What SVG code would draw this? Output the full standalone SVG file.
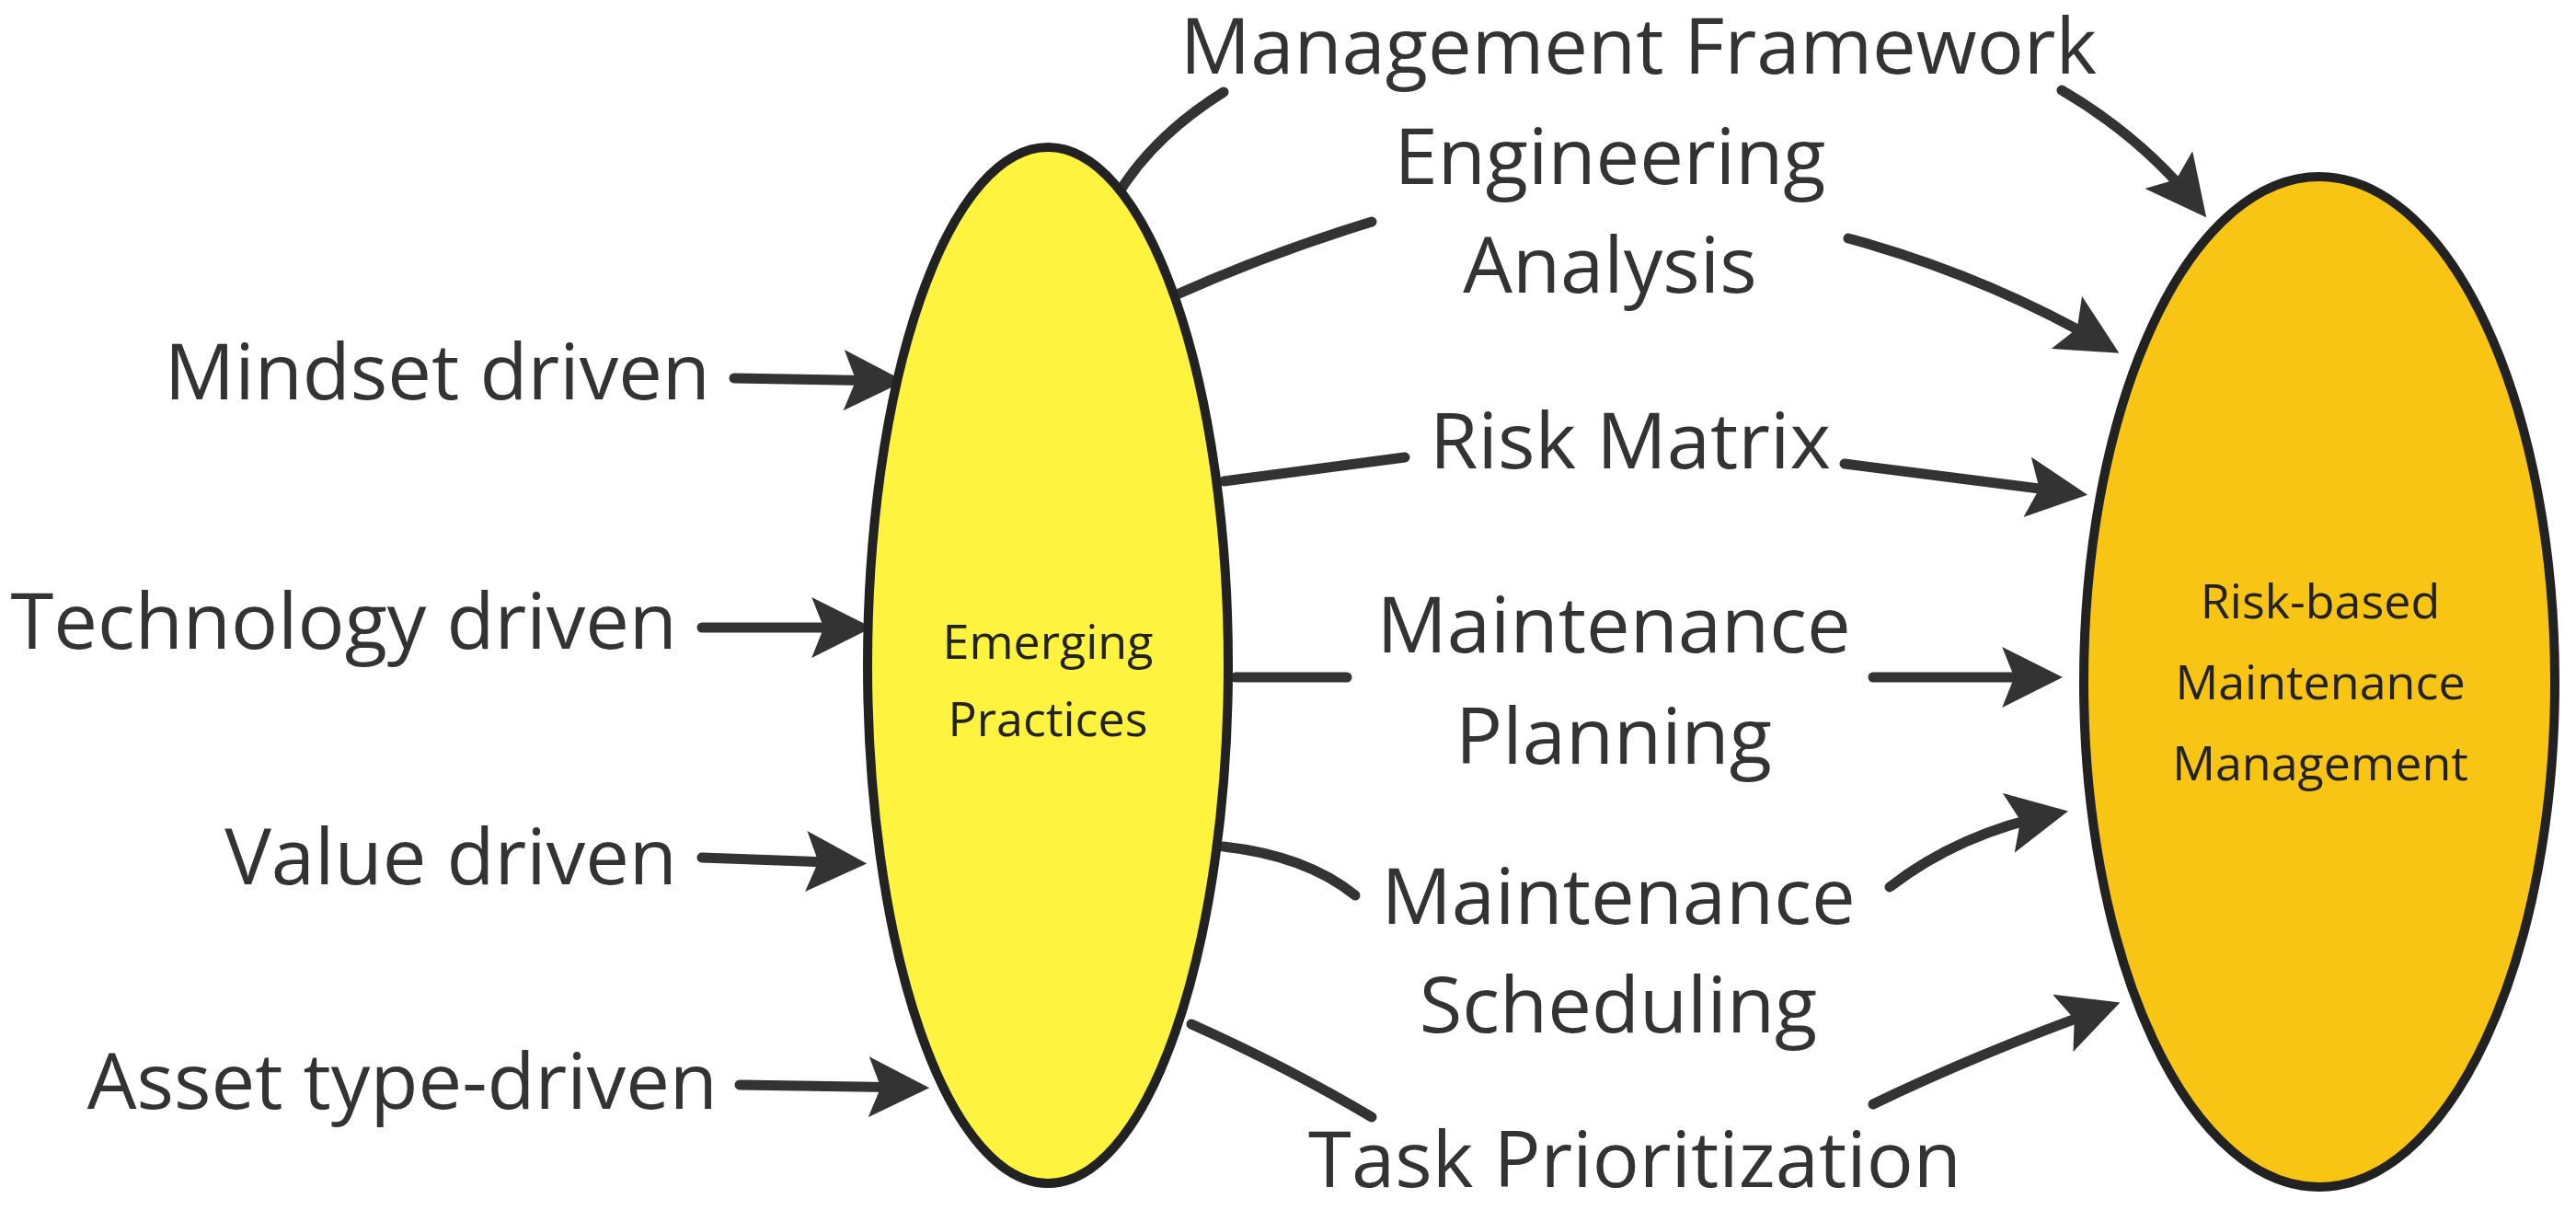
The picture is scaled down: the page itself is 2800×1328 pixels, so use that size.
<svg xmlns="http://www.w3.org/2000/svg" width="2800" height="1328" viewBox="0 0 2800 1328">
<defs>
<style>
.l{font-family:"Open Sans","Liberation Sans",sans-serif;font-size:85px;fill:#333}
.s{font-family:"Open Sans","Liberation Sans",sans-serif;font-size:52px;fill:#222;text-anchor:middle}
.c{fill:none;stroke:#333;stroke-width:11;stroke-linecap:round}
.a{marker-end:url(#ah)}
</style>
<marker id="ah" viewBox="0 0 10 10" refX="8" refY="5" markerWidth="6" markerHeight="6" markerUnits="strokeWidth" orient="auto"><path d="M0,0L10,5L0,10L2,5z" fill="#333"/></marker>
</defs>
<rect width="2800" height="1328" fill="#fff"/>
<g id="connectors">
<path class="c a" d="M798,411L970,414"/>
<path class="c a" d="M763,682L935,682"/>
<path class="c a" d="M763,932L929,938"/>
<path class="c a" d="M804,1179L997,1182"/>
<path class="c" d="M1211,218Q1250,150 1330,100"/>
<path class="c a" d="M2241,98Q2330,150 2390,226"/>
<path class="c" d="M1277,321Q1380,275 1491,241"/>
<path class="c a" d="M2009,259Q2160,300 2292,377"/>
<path class="c" d="M1330,523L1527,497"/>
<path class="c a" d="M2005,504L2256,536"/>
<path class="c" d="M1343,736L1464,736"/>
<path class="c a" d="M2036,736L2229,736"/>
<path class="c" d="M1330,920Q1420,930 1473,973"/>
<path class="c a" d="M2054,964Q2130,905 2235,884"/>
<path class="c" d="M1295,1113Q1400,1160 1491,1214"/>
<path class="c a" d="M2036,1200Q2150,1145 2292,1094"/>
</g>
<g id="emerging"><ellipse cx="1139" cy="723" rx="196" ry="563" fill="#FEF33F" stroke="#222" stroke-width="10"/>
<text class="s" x="1139" y="716">Emerging</text><text class="s" x="1139" y="800">Practices</text></g>
<g id="rbm"><ellipse cx="2521" cy="741" rx="256" ry="549" fill="#F8C514" stroke="#222" stroke-width="10"/>
<text class="s" x="2522" y="672">Risk-based</text><text class="s" x="2522" y="760">Maintenance</text><text class="s" x="2522" y="848">Management</text></g>
<g id="labels">
<text class="l" x="772" y="434" text-anchor="end">Mindset driven</text>
<text class="l" x="736" y="705" text-anchor="end">Technology driven</text>
<text class="l" x="736" y="961" text-anchor="end">Value driven</text>
<text class="l" x="780" y="1205" text-anchor="end">Asset type-driven</text>
<text class="l" x="1781" y="80" text-anchor="middle">Management Framework</text>
<text class="l" x="1750" y="200" text-anchor="middle">Engineering</text>
<text class="l" x="1750" y="318" text-anchor="middle">Analysis</text>
<text class="l" x="1772" y="509" text-anchor="middle">Risk Matrix</text>
<text class="l" x="1754" y="709" text-anchor="middle">Maintenance</text>
<text class="l" x="1754" y="830" text-anchor="middle">Planning</text>
<text class="l" x="1759" y="1004" text-anchor="middle">Maintenance</text>
<text class="l" x="1759" y="1122" text-anchor="middle">Scheduling</text>
<text class="l" x="1777" y="1290" text-anchor="middle">Task Prioritization</text>
</g>
</svg>
